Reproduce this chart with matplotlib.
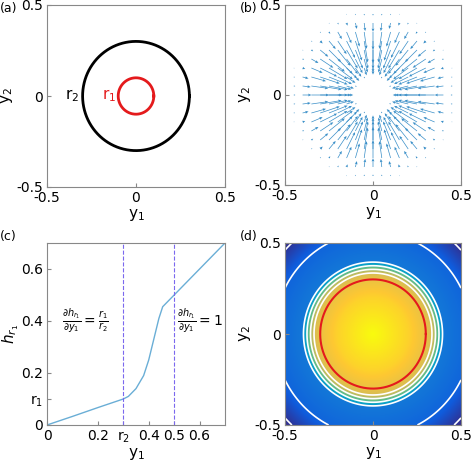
import matplotlib
matplotlib.use('Agg')
import matplotlib.pyplot as plt
import numpy as np
from matplotlib.colors import LinearSegmentedColormap

# ── data ─────────────────────────────────────────────────────────────────────
r1, r2 = 0.1, 0.3
# panel (c): h_{r1} vs y1
curve_y1 = [0.0, 0.1, 0.2, 0.3, 0.32, 0.35, 0.38, 0.40, 0.42, 0.44, 0.455, 0.47, 0.5, 0.6, 0.7]
curve_h  = [0.0, 0.033, 0.067, 0.10, 0.11, 0.14, 0.19, 0.25, 0.33, 0.41, 0.455, 0.47, 0.50, 0.60, 0.70]
# panel (b): arrow length vs radius
quiv_r   = [0.0, 0.10, 0.15, 0.20, 0.25, 0.30, 0.35, 0.40, 0.43, 0.5]
quiv_mag = [0.0, 0.00, 0.30, 0.60, 0.85, 1.00, 0.80, 0.40, 0.10, 0.0]
# panel (d): colour value vs radius, and contour radii
field_r = [0.0, 0.20, 0.30, 0.34, 0.37, 0.40, 0.55, 0.71]
field_z = [1.0, 0.90, 0.82, 0.76, 0.55, 0.22, 0.16, 0.0]
contour_levels = [0.335, 0.355, 0.375, 0.395, 0.56, 0.68]

parula = LinearSegmentedColormap.from_list('parula', [
    '#352a87', '#0f5cdd', '#1481d6', '#06a4ca', '#2eb7a4',
    '#87bf77', '#d1bb59', '#fec832', '#f9fb0e'])

fig = plt.figure(figsize=(4.74, 4.72), dpi=100)
plt.rcParams['font.size'] = 10
lab = dict(fontsize=11, labelpad=1)

def style(ax):
    for s in ax.spines.values():
        s.set_color('#888888')
    ax.tick_params(direction='in', length=3, color='#888888', pad=3)

def square(ax):
    ax.set_xlim(-0.5, 0.5); ax.set_ylim(-0.5, 0.5)
    ax.set_xticks([-0.5, 0, 0.5]); ax.set_yticks([-0.5, 0, 0.5])
    ax.set_xticklabels(['-0.5', '0', '0.5']); ax.set_yticklabels(['-0.5', '0', '0.5'])
    ax.set_xlabel(r'y$_1$', **lab); ax.set_ylabel(r'y$_2$', **lab)
    style(ax)

t = np.linspace(0, 2 * np.pi, 300)

# ── (a) ──────────────────────────────────────────────────────────────────────
ax = fig.add_axes([47/474, 1 - 187/472, 178/474, 182/472])
ax.plot(r2 * np.cos(t), r2 * np.sin(t), color='black', lw=2)
ax.plot(r1 * np.cos(t), r1 * np.sin(t), color='#e41a1c', lw=2)
ax.text(-0.32, 0.0, r'r$_2$', ha='right', va='center', fontsize=11)
ax.text(-0.11, 0.0, r'r$_1$', ha='right', va='center', fontsize=11, color='#e41a1c')
square(ax)
fig.text(0.0, 1 - 12/472, '(a)', fontsize=9)

# ── (b) ──────────────────────────────────────────────────────────────────────
ax = fig.add_axes([285/474, 1 - 185/472, 176/474, 180/472])
g = np.arange(-0.45, 0.4501, 0.05)
X, Y = np.meshgrid(g, g)
R = np.hypot(X, Y)
M = np.interp(R, quiv_r, quiv_mag)
keep = M > 0.02
U = -X[keep] / R[keep] * M[keep]
V = -Y[keep] / R[keep] * M[keep]
ax.quiver(X[keep], Y[keep], U, V, color='#3a8fc8', scale=8, scale_units='width',
          width=0.004, headwidth=4, headlength=4.5, headaxislength=4)
square(ax)
fig.text(240/474, 1 - 12/472, '(b)', fontsize=9)

# ── (c) ──────────────────────────────────────────────────────────────────────
ax = fig.add_axes([47/474, 1 - 425/472, 178/474, 182/472])
ax.plot(curve_y1, curve_h, color='#6aaed6', lw=1)
for xv in (r2, 0.5):
    ax.axvline(xv, color='#7b68ee', ls='--', lw=0.8)
ax.text(0.15, 0.4, r'$\frac{\partial h_{r_1}}{\partial y_1}=\frac{r_1}{r_2}$',
        ha='center', va='center', fontsize=10)
ax.text(0.6, 0.4, r'$\frac{\partial h_{r_1}}{\partial y_1}=1$',
        ha='center', va='center', fontsize=10)
ax.set_xlim(0, 0.7); ax.set_ylim(0, 0.7)
ax.set_xticks([0, 0.2, r2, 0.4, 0.5, 0.6])
ax.set_xticklabels(['0', '0.2', r'r$_2$', '0.4', '0.5', '0.6'])
ax.set_yticks([0, r1, 0.2, 0.4, 0.6])
ax.set_yticklabels(['0', r'r$_1$', '0.2', '0.4', '0.6'])
ax.set_xlabel(r'y$_1$', **lab); ax.set_ylabel(r'$h_{r_1}$', fontsize=11, labelpad=0)
style(ax)
fig.text(0.0, 1 - 240/472, '(c)', fontsize=9)

# ── (d) ──────────────────────────────────────────────────────────────────────
ax = fig.add_axes([285/474, 1 - 425/472, 176/474, 182/472])
gd = np.linspace(-0.5, 0.5, 300)
XD, YD = np.meshgrid(gd, gd)
RD = np.hypot(XD, YD)
Z = np.interp(RD, field_r, field_z)
ax.imshow(Z, extent=(-0.5, 0.5, -0.5, 0.5), origin='lower', cmap=parula,
          vmin=0, vmax=1, aspect='auto')
ax.contour(XD, YD, RD, levels=contour_levels, colors='white', linewidths=1.2)
ax.plot(r2 * np.cos(t), r2 * np.sin(t), color='#e41a1c', lw=1.5)
square(ax)
fig.text(240/474, 1 - 240/472, '(d)', fontsize=9)

fig.savefig('out.png', dpi=100)
